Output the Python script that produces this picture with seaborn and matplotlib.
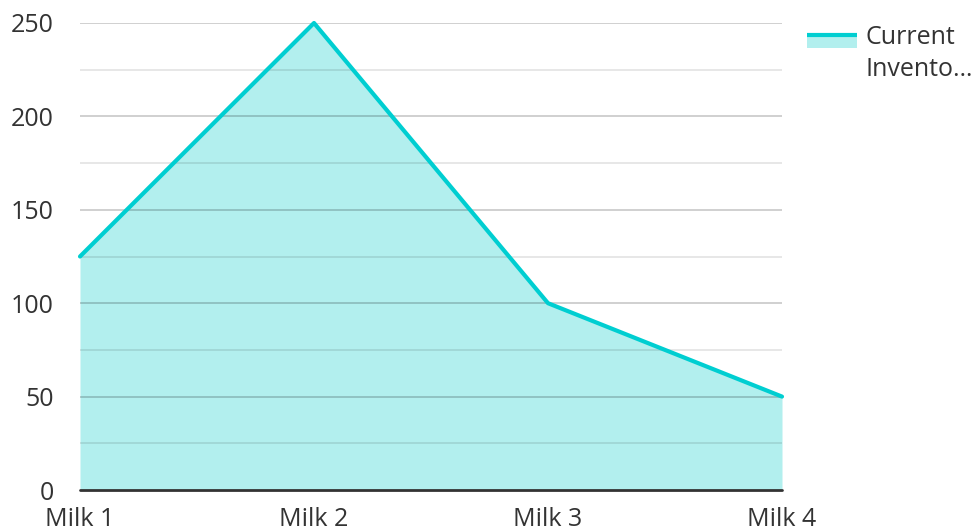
import matplotlib
matplotlib.use("Agg")
import matplotlib.pyplot as plt
from matplotlib.patches import Rectangle
from matplotlib.lines import Line2D
import seaborn as sns
import pandas as pd

categories = ["Milk 1", "Milk 2", "Milk 3", "Milk 4"]
inventory = [125, 250, 100, 50]
series_name = "Current Inventory"
legend_lines = ["Current", "Invento…"]
y_ticks = [0, 50, 100, 150, 200, 250]
y_minor = [25, 75, 125, 175, 225]

line_color = "#00CED1"
fill_color = "#B2EFEE"
text_color = "#333333"

sns.set_theme(style="white")
plt.rcParams["font.family"] = ["Open Sans", "DejaVu Sans"]

W, H = 979, 531
df = pd.DataFrame({"product": categories, "stock": inventory})
pos = list(range(len(categories)))
df["pos"] = pos

fig = plt.figure(figsize=(W / 100, H / 100), dpi=100)
ax = fig.add_axes([80 / W, 41 / H, 702 / W, 467 / H])

ax.fill_between(df["pos"], df["stock"], 0, color=fill_color, linewidth=0, zorder=1)
sns.lineplot(data=df, x="pos", y="stock", ax=ax, color=line_color, linewidth=3,
             zorder=4, clip_on=False, legend=False)

# gridlines drawn above the filled area
for v in y_ticks[1:]:
    ax.axhline(v, color="#000000", alpha=0.2, linewidth=1.3, zorder=2)
for v in y_minor:
    ax.axhline(v, color="#000000", alpha=0.1, linewidth=1.3, zorder=2)
ax.axhline(0, color=text_color, linewidth=2, zorder=5, clip_on=False)

ax.set_xlim(0, len(categories) - 1)
ax.set_ylim(0, 250)
ax.set_xticks(pos)
ax.set_xticklabels(categories)
ax.set_yticks(y_ticks)
ax.set_xlabel("")
ax.set_ylabel("")
for s in ax.spines.values():
    s.set_visible(False)
ax.tick_params(axis="both", length=0, labelsize=18, colors=text_color)
ax.tick_params(axis="y", pad=19)
ax.tick_params(axis="x", pad=12)

# legend: filled swatch with the series line along its top edge
fig.add_artist(Rectangle((807 / W, 1 - 47.5 / H), 50 / W, 12 / H,
                         transform=fig.transFigure, facecolor=fill_color,
                         edgecolor="none"))
fig.add_artist(Line2D([807 / W, 857 / W], [1 - 35 / H, 1 - 35 / H],
                      transform=fig.transFigure, color=line_color, linewidth=3,
                      solid_capstyle="butt"))
for i, t in enumerate(legend_lines):
    fig.text(866 / W, 1 - (44.5 + 31.5 * i) / H, t, fontsize=18,
             color=text_color, ha="left", va="baseline")

fig.savefig("out.png", dpi=100)
